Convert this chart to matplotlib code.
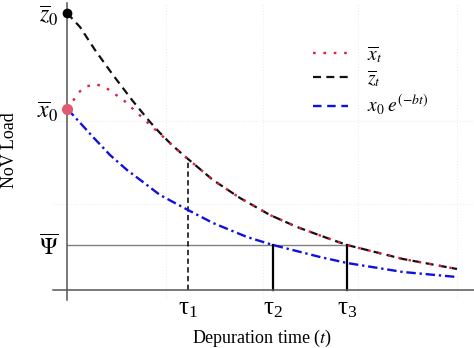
import matplotlib
matplotlib.use('Agg')
from matplotlib import pyplot as plt
from matplotlib.lines import Line2D

plt.rcParams['font.family'] = ['Liberation Serif', 'DejaVu Serif']
plt.rcParams['mathtext.fontset'] = 'stix'

# Sketch values (arbitrary units), time t on x, load on y
z0 = 277
x0 = 181
psi = 45
tau = [121, 206, 280]
tau_labels = [r'$\mathregular{τ_1}$', r'$\mathregular{τ_2}$', r'$\mathregular{τ_3}$']

# mean load with depuration, z_t
t_z = [0, 13, 28, 46, 65, 83, 93, 106, 121, 146, 173, 203, 230, 260, 280, 336, 390]
z_t = [277, 263, 240, 215, 190, 168, 157, 144, 131, 110, 92, 75, 63, 52, 45, 31, 21]

# mean load x_t, rises first then joins z_t
t_x = [0, 6, 11, 18, 28, 38, 46, 54, 61, 69, 76, 83, 91, 106, 121, 146, 173, 203,
       230, 260, 280, 336, 390]
x_t = [181, 189, 197, 203, 206, 203, 197, 192, 186, 178, 172, 165, 158, 144, 131,
       110, 92, 75, 63, 52, 45, 31, 21]

# plain exponential decay from x0
t_e = [0, 6, 26, 43, 60, 76, 93, 121, 146, 180, 206, 253, 280, 336, 390]
x_e = [181, 175, 153, 135, 120, 108, 95, 80, 67, 53, 45, 33, 27, 18, 13]

fig = plt.figure(figsize=(4.74, 3.48), dpi=100)
ax = fig.add_axes([53/474, 48/348, 421/474, 297/348])
ax.set_xlim(-14, 407)
ax.set_ylim(-10, 287)

for s in ['top', 'right']:
    ax.spines[s].set_visible(False)
for s in ['left', 'bottom']:
    ax.spines[s].set_position(('data', 0))
    ax.spines[s].set_color('#555555')
    ax.spines[s].set_linewidth(1.1)

# faint background grid
for g in [99, 196, 291, 390]:
    ax.axvline(g, color='#eeeeee', lw=0.8, ls=':', zorder=0)
for g in [169, 86]:
    ax.axhline(g, color='#eeeeee', lw=0.8, ls=':', zorder=0)

# threshold and crossing times
ax.plot([0, tau[2]], [psi, psi], color='#808080', lw=1.0, zorder=1)
ax.plot([tau[0], tau[0]], [0, z_t[t_z.index(tau[0])]], color='black', lw=1.1,
        dashes=(3.5, 2.2), zorder=2)
ax.plot([tau[1], tau[1]], [0, psi], color='black', lw=1.6, zorder=2)
ax.plot([tau[2], tau[2]], [0, psi], color='black', lw=1.6, zorder=2)

ax.plot(t_e, x_e, color='#1010e0', lw=1.7, dashes=(4, 1.6, 1, 1.6), zorder=3)
ax.plot(t_z, z_t, color='#111111', lw=1.6, dashes=(3.6, 2.4), zorder=3)
ax.plot(t_x, x_t, color='#e0203f', lw=1.7, dashes=(1.1, 3.3), zorder=4)

ax.plot([0], [z0], 'o', color='black', ms=6, zorder=5, clip_on=False)
ax.plot([0], [x0], 'o', color='#e05a70', ms=7, zorder=5, clip_on=False)

ax.set_xticks(tau)
ax.set_xticklabels(tau_labels, fontsize=18)
ax.set_yticks([z0, x0, psi])
ax.set_yticklabels([r'$\overline{z}_0$', r'$\overline{x}_0$', r'$\overline{\Psi}$'], fontsize=17)
ax.tick_params(axis='both', length=0)
ax.tick_params(axis='x', pad=6)
ax.tick_params(axis='y', pad=6)

fig.text(262/474, 1 - 338/348, 'Depuration time ($t$)', ha='center', va='center', fontsize=13)
fig.text(10/474, 1 - 150/348, 'NoV Load', ha='center', va='center', rotation=90, fontsize=13)

handles = [
    Line2D([], [], color='#e0203f', lw=1.7, dashes=(1.1, 3.3)),
    Line2D([], [], color='#111111', lw=1.6, dashes=(3.6, 2.4)),
    Line2D([], [], color='#1010e0', lw=1.7, dashes=(3.6, 2.4)),
]
labels = [r'$\overline{x}_t$', r'$\overline{z}_t$', r'$x_0\;e^{(-bt)}$']
ax.legend(handles, labels, loc='upper left', bbox_to_anchor=(313/474, 1 - 44/348),
          bbox_transform=fig.transFigure, frameon=False, fontsize=14,
          handlelength=1.8, handletextpad=1.0, borderpad=0, borderaxespad=0,
          labelspacing=0.2)

fig.savefig('out.png', dpi=100)
